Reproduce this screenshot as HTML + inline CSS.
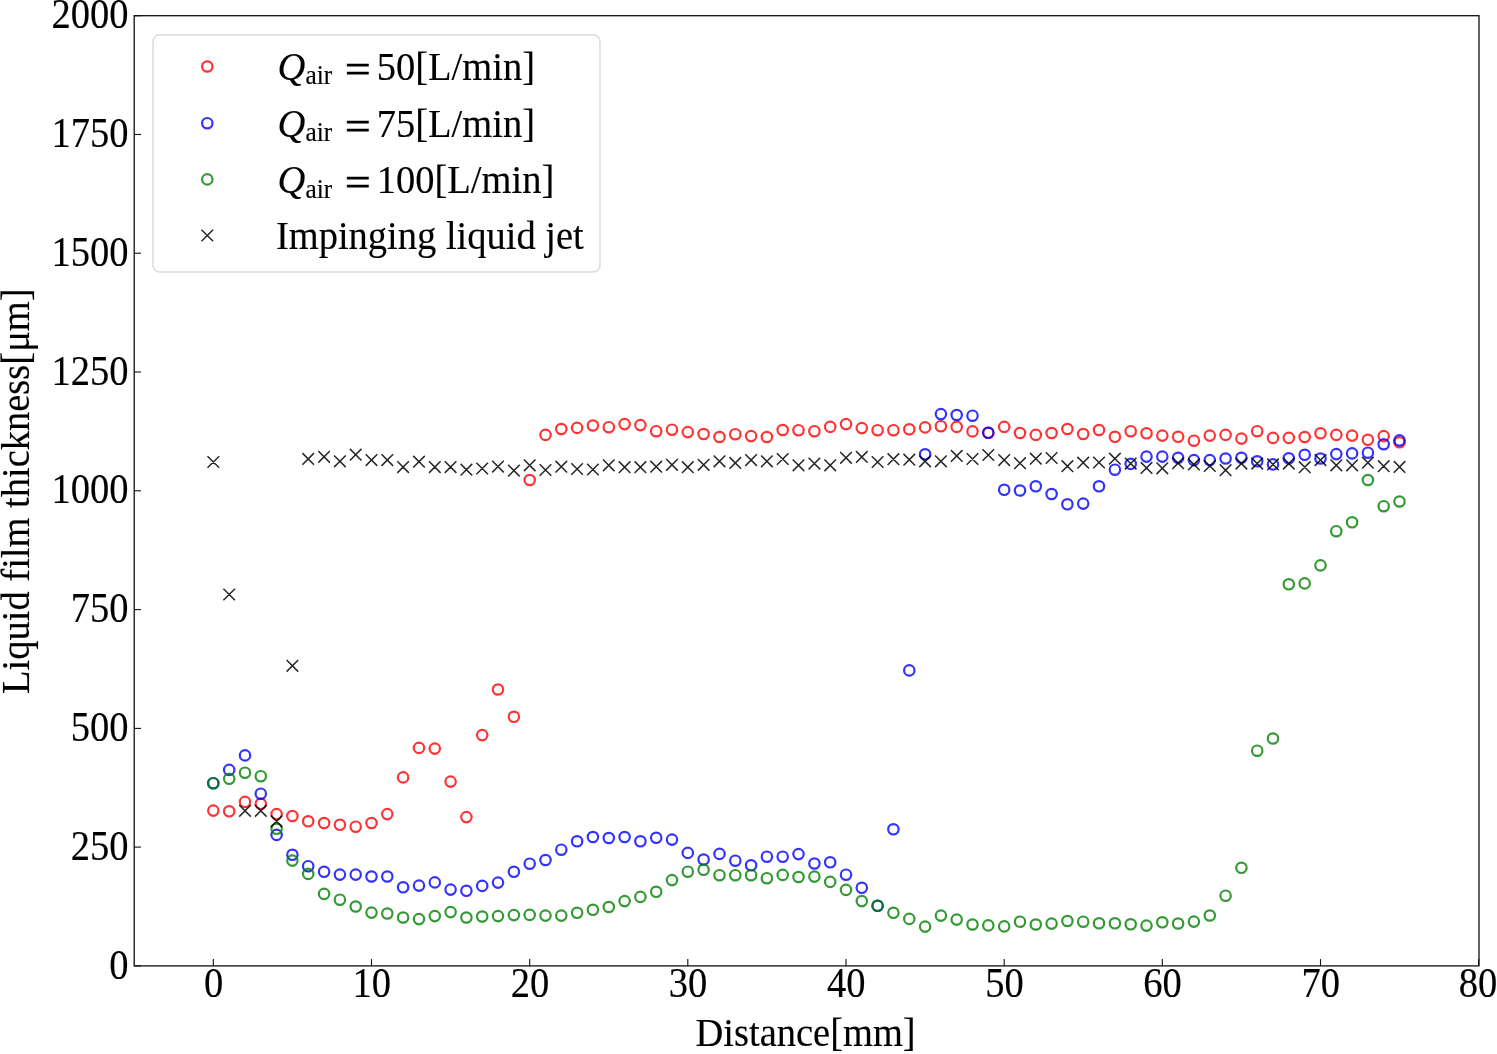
<!DOCTYPE html>
<html lang="en"><head><meta charset="utf-8"><title>Liquid film thickness</title>
<style>
html,body{margin:0;padding:0;background:#fff;}
body{width:1497px;height:1054px;overflow:hidden;}
svg{display:block;}
text{font-family:"Liberation Serif",serif;fill:#000;stroke:#000;stroke-width:0.15px;}
.tk{font-size:38.5px;}
.lb{font-size:38.5px;}
.lg{font-size:38.5px;}
.it{font-style:italic;}
.sub{font-size:26.9px;}
.ax{stroke:#111;stroke-width:1.3;fill:none;}
.tick{stroke:#111;stroke-width:1.1;}
.r{stroke:#f00;} .b{stroke:#00f;} .g{stroke:#008000;}
.m{fill:none;stroke-width:2.2;stroke-opacity:0.8;}
.eq{stroke:#000;stroke-width:0.7px;}
.x{stroke:#000;stroke-opacity:0.85;stroke-width:1.5;fill:none;}
</style></head><body>
<svg width="1497" height="1054" viewBox="0 0 1497 1054">
<rect width="1497" height="1054" fill="#fff"/>

<g class="m r">
<circle cx="213.3" cy="810.6" r="5.2"/>
<circle cx="229.2" cy="811.3" r="5.2"/>
<circle cx="245.0" cy="801.9" r="5.2"/>
<circle cx="260.8" cy="803.8" r="5.2"/>
<circle cx="276.6" cy="814.1" r="5.2"/>
<circle cx="292.4" cy="816.0" r="5.2"/>
<circle cx="308.2" cy="821.3" r="5.2"/>
<circle cx="324.1" cy="823.0" r="5.2"/>
<circle cx="339.9" cy="824.8" r="5.2"/>
<circle cx="355.7" cy="826.7" r="5.2"/>
<circle cx="371.5" cy="823.0" r="5.2"/>
<circle cx="387.3" cy="814.1" r="5.2"/>
<circle cx="403.1" cy="777.4" r="5.2"/>
<circle cx="419.0" cy="747.9" r="5.2"/>
<circle cx="434.8" cy="748.6" r="5.2"/>
<circle cx="450.6" cy="781.6" r="5.2"/>
<circle cx="466.4" cy="817.1" r="5.2"/>
<circle cx="482.2" cy="735.1" r="5.2"/>
<circle cx="498.0" cy="689.5" r="5.2"/>
<circle cx="513.9" cy="716.8" r="5.2"/>
<circle cx="529.7" cy="480.0" r="5.2"/>
<circle cx="545.5" cy="434.9" r="5.2"/>
<circle cx="561.3" cy="429.0" r="5.2"/>
<circle cx="577.1" cy="427.9" r="5.2"/>
<circle cx="592.9" cy="425.5" r="5.2"/>
<circle cx="608.8" cy="427.2" r="5.2"/>
<circle cx="624.6" cy="424.1" r="5.2"/>
<circle cx="640.4" cy="425.1" r="5.2"/>
<circle cx="656.2" cy="431.2" r="5.2"/>
<circle cx="672.0" cy="429.7" r="5.2"/>
<circle cx="687.8" cy="432.1" r="5.2"/>
<circle cx="703.6" cy="434.0" r="5.2"/>
<circle cx="719.5" cy="437.0" r="5.2"/>
<circle cx="735.3" cy="434.2" r="5.2"/>
<circle cx="751.1" cy="436.1" r="5.2"/>
<circle cx="766.9" cy="437.0" r="5.2"/>
<circle cx="782.7" cy="430.0" r="5.2"/>
<circle cx="798.5" cy="430.2" r="5.2"/>
<circle cx="814.4" cy="431.2" r="5.2"/>
<circle cx="830.2" cy="426.9" r="5.2"/>
<circle cx="846.0" cy="424.1" r="5.2"/>
<circle cx="861.8" cy="428.1" r="5.2"/>
<circle cx="877.6" cy="430.2" r="5.2"/>
<circle cx="893.4" cy="430.2" r="5.2"/>
<circle cx="909.3" cy="429.3" r="5.2"/>
<circle cx="925.1" cy="427.4" r="5.2"/>
<circle cx="940.9" cy="426.2" r="5.2"/>
<circle cx="956.7" cy="426.9" r="5.2"/>
<circle cx="972.5" cy="431.4" r="5.2"/>
<circle cx="988.3" cy="432.8" r="5.2"/>
<circle cx="1004.2" cy="426.9" r="5.2"/>
<circle cx="1020.0" cy="433.0" r="5.2"/>
<circle cx="1035.8" cy="434.9" r="5.2"/>
<circle cx="1051.6" cy="433.0" r="5.2"/>
<circle cx="1067.4" cy="429.0" r="5.2"/>
<circle cx="1083.2" cy="434.0" r="5.2"/>
<circle cx="1099.0" cy="430.0" r="5.2"/>
<circle cx="1114.9" cy="436.8" r="5.2"/>
<circle cx="1130.7" cy="431.2" r="5.2"/>
<circle cx="1146.5" cy="433.3" r="5.2"/>
<circle cx="1162.3" cy="435.6" r="5.2"/>
<circle cx="1178.1" cy="436.8" r="5.2"/>
<circle cx="1193.9" cy="440.7" r="5.2"/>
<circle cx="1209.8" cy="435.6" r="5.2"/>
<circle cx="1225.6" cy="434.9" r="5.2"/>
<circle cx="1241.4" cy="438.6" r="5.2"/>
<circle cx="1257.2" cy="431.2" r="5.2"/>
<circle cx="1273.0" cy="437.9" r="5.2"/>
<circle cx="1288.8" cy="437.9" r="5.2"/>
<circle cx="1304.7" cy="437.0" r="5.2"/>
<circle cx="1320.5" cy="433.3" r="5.2"/>
<circle cx="1336.3" cy="434.9" r="5.2"/>
<circle cx="1352.1" cy="435.6" r="5.2"/>
<circle cx="1367.9" cy="439.8" r="5.2"/>
<circle cx="1383.7" cy="436.1" r="5.2"/>
<circle cx="1399.5" cy="442.3" r="5.2"/>
</g>
<g class="m b">
<circle cx="213.3" cy="783.2" r="5.2"/>
<circle cx="229.2" cy="769.9" r="5.2"/>
<circle cx="245.0" cy="755.4" r="5.2"/>
<circle cx="260.8" cy="793.7" r="5.2"/>
<circle cx="276.6" cy="834.9" r="5.2"/>
<circle cx="292.4" cy="854.8" r="5.2"/>
<circle cx="308.2" cy="866.2" r="5.2"/>
<circle cx="324.1" cy="871.8" r="5.2"/>
<circle cx="339.9" cy="874.6" r="5.2"/>
<circle cx="355.7" cy="874.6" r="5.2"/>
<circle cx="371.5" cy="876.5" r="5.2"/>
<circle cx="387.3" cy="876.5" r="5.2"/>
<circle cx="403.1" cy="887.3" r="5.2"/>
<circle cx="419.0" cy="885.6" r="5.2"/>
<circle cx="434.8" cy="882.4" r="5.2"/>
<circle cx="450.6" cy="889.6" r="5.2"/>
<circle cx="466.4" cy="890.8" r="5.2"/>
<circle cx="482.2" cy="885.9" r="5.2"/>
<circle cx="498.0" cy="882.6" r="5.2"/>
<circle cx="513.9" cy="871.8" r="5.2"/>
<circle cx="529.7" cy="863.7" r="5.2"/>
<circle cx="545.5" cy="860.0" r="5.2"/>
<circle cx="561.3" cy="849.7" r="5.2"/>
<circle cx="577.1" cy="841.3" r="5.2"/>
<circle cx="592.9" cy="837.0" r="5.2"/>
<circle cx="608.8" cy="838.0" r="5.2"/>
<circle cx="624.6" cy="837.0" r="5.2"/>
<circle cx="640.4" cy="841.3" r="5.2"/>
<circle cx="656.2" cy="837.8" r="5.2"/>
<circle cx="672.0" cy="839.6" r="5.2"/>
<circle cx="687.8" cy="852.9" r="5.2"/>
<circle cx="703.6" cy="859.5" r="5.2"/>
<circle cx="719.5" cy="853.9" r="5.2"/>
<circle cx="735.3" cy="860.7" r="5.2"/>
<circle cx="751.1" cy="865.3" r="5.2"/>
<circle cx="766.9" cy="856.7" r="5.2"/>
<circle cx="782.7" cy="856.7" r="5.2"/>
<circle cx="798.5" cy="854.1" r="5.2"/>
<circle cx="814.4" cy="863.5" r="5.2"/>
<circle cx="830.2" cy="862.3" r="5.2"/>
<circle cx="846.0" cy="874.7" r="5.2"/>
<circle cx="861.8" cy="887.8" r="5.2"/>
<circle cx="877.6" cy="905.8" r="5.2"/>
<circle cx="893.4" cy="829.3" r="5.2"/>
<circle cx="909.3" cy="670.4" r="5.2"/>
<circle cx="925.1" cy="454.3" r="5.2"/>
<circle cx="940.9" cy="414.1" r="5.2"/>
<circle cx="956.7" cy="415.0" r="5.2"/>
<circle cx="972.5" cy="415.7" r="5.2"/>
<circle cx="988.3" cy="432.8" r="5.2"/>
<circle cx="1004.2" cy="489.8" r="5.2"/>
<circle cx="1020.0" cy="490.5" r="5.2"/>
<circle cx="1035.8" cy="486.3" r="5.2"/>
<circle cx="1051.6" cy="494.0" r="5.2"/>
<circle cx="1067.4" cy="504.3" r="5.2"/>
<circle cx="1083.2" cy="503.6" r="5.2"/>
<circle cx="1099.0" cy="486.3" r="5.2"/>
<circle cx="1114.9" cy="469.7" r="5.2"/>
<circle cx="1130.7" cy="463.9" r="5.2"/>
<circle cx="1146.5" cy="456.6" r="5.2"/>
<circle cx="1162.3" cy="456.6" r="5.2"/>
<circle cx="1178.1" cy="457.8" r="5.2"/>
<circle cx="1193.9" cy="460.1" r="5.2"/>
<circle cx="1209.8" cy="460.1" r="5.2"/>
<circle cx="1225.6" cy="458.5" r="5.2"/>
<circle cx="1241.4" cy="457.8" r="5.2"/>
<circle cx="1257.2" cy="461.3" r="5.2"/>
<circle cx="1273.0" cy="464.4" r="5.2"/>
<circle cx="1288.8" cy="458.3" r="5.2"/>
<circle cx="1304.7" cy="454.8" r="5.2"/>
<circle cx="1320.5" cy="458.5" r="5.2"/>
<circle cx="1336.3" cy="454.1" r="5.2"/>
<circle cx="1352.1" cy="453.4" r="5.2"/>
<circle cx="1367.9" cy="452.7" r="5.2"/>
<circle cx="1383.7" cy="444.2" r="5.2"/>
<circle cx="1399.5" cy="440.4" r="5.2"/>
</g>
<g class="m g">
<circle cx="213.3" cy="783.2" r="5.2"/>
<circle cx="229.2" cy="778.8" r="5.2"/>
<circle cx="245.0" cy="772.7" r="5.2"/>
<circle cx="260.8" cy="776.2" r="5.2"/>
<circle cx="276.6" cy="828.8" r="5.2"/>
<circle cx="292.4" cy="860.6" r="5.2"/>
<circle cx="308.2" cy="873.9" r="5.2"/>
<circle cx="324.1" cy="893.9" r="5.2"/>
<circle cx="339.9" cy="899.7" r="5.2"/>
<circle cx="355.7" cy="906.5" r="5.2"/>
<circle cx="371.5" cy="912.6" r="5.2"/>
<circle cx="387.3" cy="913.5" r="5.2"/>
<circle cx="403.1" cy="917.5" r="5.2"/>
<circle cx="419.0" cy="919.1" r="5.2"/>
<circle cx="434.8" cy="916.1" r="5.2"/>
<circle cx="450.6" cy="912.1" r="5.2"/>
<circle cx="466.4" cy="917.5" r="5.2"/>
<circle cx="482.2" cy="916.5" r="5.2"/>
<circle cx="498.0" cy="916.1" r="5.2"/>
<circle cx="513.9" cy="915.1" r="5.2"/>
<circle cx="529.7" cy="914.9" r="5.2"/>
<circle cx="545.5" cy="915.6" r="5.2"/>
<circle cx="561.3" cy="915.6" r="5.2"/>
<circle cx="577.1" cy="912.8" r="5.2"/>
<circle cx="592.9" cy="909.8" r="5.2"/>
<circle cx="608.8" cy="907.0" r="5.2"/>
<circle cx="624.6" cy="901.1" r="5.2"/>
<circle cx="640.4" cy="896.9" r="5.2"/>
<circle cx="656.2" cy="891.8" r="5.2"/>
<circle cx="672.0" cy="880.1" r="5.2"/>
<circle cx="687.8" cy="871.7" r="5.2"/>
<circle cx="703.6" cy="869.8" r="5.2"/>
<circle cx="719.5" cy="875.2" r="5.2"/>
<circle cx="735.3" cy="875.2" r="5.2"/>
<circle cx="751.1" cy="875.2" r="5.2"/>
<circle cx="766.9" cy="878.2" r="5.2"/>
<circle cx="782.7" cy="874.9" r="5.2"/>
<circle cx="798.5" cy="877.0" r="5.2"/>
<circle cx="814.4" cy="876.6" r="5.2"/>
<circle cx="830.2" cy="881.9" r="5.2"/>
<circle cx="846.0" cy="889.9" r="5.2"/>
<circle cx="861.8" cy="901.1" r="5.2"/>
<circle cx="877.6" cy="905.8" r="5.2"/>
<circle cx="893.4" cy="912.8" r="5.2"/>
<circle cx="909.3" cy="918.9" r="5.2"/>
<circle cx="925.1" cy="926.6" r="5.2"/>
<circle cx="940.9" cy="915.6" r="5.2"/>
<circle cx="956.7" cy="919.6" r="5.2"/>
<circle cx="972.5" cy="924.5" r="5.2"/>
<circle cx="988.3" cy="925.4" r="5.2"/>
<circle cx="1004.2" cy="926.4" r="5.2"/>
<circle cx="1020.0" cy="921.7" r="5.2"/>
<circle cx="1035.8" cy="924.5" r="5.2"/>
<circle cx="1051.6" cy="923.6" r="5.2"/>
<circle cx="1067.4" cy="921.0" r="5.2"/>
<circle cx="1083.2" cy="921.7" r="5.2"/>
<circle cx="1099.0" cy="923.3" r="5.2"/>
<circle cx="1114.9" cy="923.3" r="5.2"/>
<circle cx="1130.7" cy="924.3" r="5.2"/>
<circle cx="1146.5" cy="925.6" r="5.2"/>
<circle cx="1162.3" cy="922.3" r="5.2"/>
<circle cx="1178.1" cy="923.5" r="5.2"/>
<circle cx="1193.9" cy="921.6" r="5.2"/>
<circle cx="1209.8" cy="915.5" r="5.2"/>
<circle cx="1225.6" cy="895.7" r="5.2"/>
<circle cx="1241.4" cy="867.8" r="5.2"/>
<circle cx="1257.2" cy="750.7" r="5.2"/>
<circle cx="1273.0" cy="738.5" r="5.2"/>
<circle cx="1288.8" cy="584.3" r="5.2"/>
<circle cx="1304.7" cy="583.4" r="5.2"/>
<circle cx="1320.5" cy="565.4" r="5.2"/>
<circle cx="1336.3" cy="531.2" r="5.2"/>
<circle cx="1352.1" cy="522.3" r="5.2"/>
<circle cx="1367.9" cy="480.0" r="5.2"/>
<circle cx="1383.7" cy="506.2" r="5.2"/>
<circle cx="1399.5" cy="501.5" r="5.2"/>
</g>
<path class="x" d="M207.5 456.2L219.2 467.8M207.5 467.8L219.2 456.2M223.4 588.7L235.0 600.3M223.4 600.3L235.0 588.7M239.2 805.0L250.8 816.6M239.2 816.6L250.8 805.0M255.0 805.0L266.6 816.6M255.0 816.6L266.6 805.0M270.8 815.5L282.4 827.1M270.8 827.1L282.4 815.5M286.6 660.0L298.2 671.6M286.6 671.6L298.2 660.0M302.4 453.1L314.0 464.7M302.4 464.7L314.0 453.1M318.3 451.0L329.9 462.6M318.3 462.6L329.9 451.0M334.1 455.5L345.7 467.1M334.1 467.1L345.7 455.5M349.9 448.9L361.5 460.5M349.9 460.5L361.5 448.9M365.7 454.3L377.3 465.9M365.7 465.9L377.3 454.3M381.5 454.3L393.1 465.9M381.5 465.9L393.1 454.3M397.3 461.3L408.9 472.9M397.3 472.9L408.9 461.3M413.2 455.9L424.8 467.5M413.2 467.5L424.8 455.9M429.0 461.3L440.6 472.9M429.0 472.9L440.6 461.3M444.8 461.3L456.4 472.9M444.8 472.9L456.4 461.3M460.6 463.9L472.2 475.5M460.6 475.5L472.2 463.9M476.4 462.7L488.0 474.3M476.4 474.3L488.0 462.7M492.2 460.8L503.8 472.4M492.2 472.4L503.8 460.8M508.1 464.8L519.7 476.4M508.1 476.4L519.7 464.8M523.9 459.5L535.5 471.1M523.9 471.1L535.5 459.5M539.7 464.2L551.3 475.8M539.7 475.8L551.3 464.2M555.5 460.9L567.1 472.5M555.5 472.5L567.1 460.9M571.3 463.2L582.9 474.8M571.3 474.8L582.9 463.2M587.1 463.7L598.7 475.3M587.1 475.3L598.7 463.7M603.0 459.5L614.5 471.1M603.0 471.1L614.5 459.5M618.8 461.4L630.4 473.0M618.8 473.0L630.4 461.4M634.6 461.4L646.2 473.0M634.6 473.0L646.2 461.4M650.4 460.9L662.0 472.5M650.4 472.5L662.0 460.9M666.2 459.0L677.8 470.6M666.2 470.6L677.8 459.0M682.0 461.4L693.6 473.0M682.0 473.0L693.6 461.4M697.8 459.0L709.4 470.6M697.8 470.6L709.4 459.0M713.7 455.5L725.3 467.1M713.7 467.1L725.3 455.5M729.5 457.1L741.1 468.7M729.5 468.7L741.1 457.1M745.3 454.3L756.9 465.9M745.3 465.9L756.9 454.3M761.1 455.5L772.7 467.1M761.1 467.1L772.7 455.5M776.9 453.2L788.5 464.8M776.9 464.8L788.5 453.2M792.7 459.5L804.3 471.1M792.7 471.1L804.3 459.5M808.6 457.8L820.2 469.4M808.6 469.4L820.2 457.8M824.4 459.5L836.0 471.1M824.4 471.1L836.0 459.5M840.2 452.0L851.8 463.6M840.2 463.6L851.8 452.0M856.0 451.1L867.6 462.7M856.0 462.7L867.6 451.1M871.8 456.2L883.4 467.8M871.8 467.8L883.4 456.2M887.6 453.4L899.2 465.0M887.6 465.0L899.2 453.4M903.5 453.9L915.1 465.5M903.5 465.5L915.1 453.9M919.3 455.5L930.9 467.1M919.3 467.1L930.9 455.5M935.1 455.5L946.7 467.1M935.1 467.1L946.7 455.5M950.9 450.1L962.5 461.7M950.9 461.7L962.5 450.1M966.7 453.2L978.3 464.8M966.7 464.8L978.3 453.2M982.5 449.2L994.1 460.8M982.5 460.8L994.1 449.2M998.4 454.3L1010.0 465.9M998.4 465.9L1010.0 454.3M1014.2 457.4L1025.8 469.0M1014.2 469.0L1025.8 457.4M1030.0 452.9L1041.6 464.5M1030.0 464.5L1041.6 452.9M1045.8 452.2L1057.4 463.8M1045.8 463.8L1057.4 452.2M1061.6 460.4L1073.2 472.0M1061.6 472.0L1073.2 460.4M1077.4 456.9L1089.0 468.5M1077.4 468.5L1089.0 456.9M1093.2 456.7L1104.8 468.3M1093.2 468.3L1104.8 456.7M1109.1 452.9L1120.7 464.5M1109.1 464.5L1120.7 452.9M1124.9 457.8L1136.5 469.4M1124.9 469.4L1136.5 457.8M1140.7 462.1L1152.3 473.7M1140.7 473.7L1152.3 462.1M1156.5 462.5L1168.1 474.1M1156.5 474.1L1168.1 462.5M1172.3 457.4L1183.9 469.0M1172.3 469.0L1183.9 457.4M1188.1 458.6L1199.7 470.2M1188.1 470.2L1199.7 458.6M1204.0 460.2L1215.6 471.8M1204.0 471.8L1215.6 460.2M1219.8 464.4L1231.4 476.0M1219.8 476.0L1231.4 464.4M1235.6 457.8L1247.2 469.4M1235.6 469.4L1247.2 457.8M1251.4 457.8L1263.0 469.4M1251.4 469.4L1263.0 457.8M1267.2 458.6L1278.8 470.2M1267.2 470.2L1278.8 458.6M1283.0 457.8L1294.6 469.4M1283.0 469.4L1294.6 457.8M1298.9 461.4L1310.5 473.0M1298.9 473.0L1310.5 461.4M1314.7 454.3L1326.3 465.9M1314.7 465.9L1326.3 454.3M1330.5 459.5L1342.1 471.1M1330.5 471.1L1342.1 459.5M1346.3 459.5L1357.9 471.1M1346.3 471.1L1357.9 459.5M1362.1 456.9L1373.7 468.5M1362.1 468.5L1373.7 456.9M1377.9 460.4L1389.5 472.0M1377.9 472.0L1389.5 460.4M1393.8 461.1L1405.3 472.7M1393.8 472.7L1405.3 461.1"/>
<rect class="ax" x="134.2" y="15.7" width="1344.8" height="950.2"/>
<line class="tick" x1="213.3" y1="965.9" x2="213.3" y2="959.1"/>
<text class="tk" transform="translate(213.7 997) scale(1 1.07)" text-anchor="middle">0</text>
<line class="tick" x1="371.5" y1="965.9" x2="371.5" y2="959.1"/>
<text class="tk" transform="translate(371.8 997) scale(1 1.07)" text-anchor="middle">10</text>
<line class="tick" x1="529.7" y1="965.9" x2="529.7" y2="959.1"/>
<text class="tk" transform="translate(530.0 997) scale(1 1.07)" text-anchor="middle">20</text>
<line class="tick" x1="687.8" y1="965.9" x2="687.8" y2="959.1"/>
<text class="tk" transform="translate(688.1 997) scale(1 1.07)" text-anchor="middle">30</text>
<line class="tick" x1="846.0" y1="965.9" x2="846.0" y2="959.1"/>
<text class="tk" transform="translate(846.3 997) scale(1 1.07)" text-anchor="middle">40</text>
<line class="tick" x1="1004.2" y1="965.9" x2="1004.2" y2="959.1"/>
<text class="tk" transform="translate(1004.5 997) scale(1 1.07)" text-anchor="middle">50</text>
<line class="tick" x1="1162.3" y1="965.9" x2="1162.3" y2="959.1"/>
<text class="tk" transform="translate(1162.6 997) scale(1 1.07)" text-anchor="middle">60</text>
<line class="tick" x1="1320.5" y1="965.9" x2="1320.5" y2="959.1"/>
<text class="tk" transform="translate(1320.8 997) scale(1 1.07)" text-anchor="middle">70</text>
<line class="tick" x1="1478.6" y1="965.9" x2="1478.6" y2="959.1"/>
<text class="tk" transform="translate(1478.1 997) scale(1 1.07)" text-anchor="middle">80</text>
<line class="tick" x1="134.2" y1="965.9" x2="141.0" y2="965.9"/>
<text class="tk" transform="translate(128.6 978.5) scale(1 1.07)" text-anchor="end">0</text>
<line class="tick" x1="134.2" y1="847.1" x2="141.0" y2="847.1"/>
<text class="tk" transform="translate(128.6 859.7) scale(1 1.07)" text-anchor="end">250</text>
<line class="tick" x1="134.2" y1="728.4" x2="141.0" y2="728.4"/>
<text class="tk" transform="translate(128.6 741.0) scale(1 1.07)" text-anchor="end">500</text>
<line class="tick" x1="134.2" y1="609.6" x2="141.0" y2="609.6"/>
<text class="tk" transform="translate(128.6 622.2) scale(1 1.07)" text-anchor="end">750</text>
<line class="tick" x1="134.2" y1="490.8" x2="141.0" y2="490.8"/>
<text class="tk" transform="translate(128.6 503.4) scale(1 1.07)" text-anchor="end">1000</text>
<line class="tick" x1="134.2" y1="372.0" x2="141.0" y2="372.0"/>
<text class="tk" transform="translate(128.6 384.6) scale(1 1.07)" text-anchor="end">1250</text>
<line class="tick" x1="134.2" y1="253.2" x2="141.0" y2="253.2"/>
<text class="tk" transform="translate(128.6 265.9) scale(1 1.07)" text-anchor="end">1500</text>
<line class="tick" x1="134.2" y1="134.5" x2="141.0" y2="134.5"/>
<text class="tk" transform="translate(128.6 147.1) scale(1 1.07)" text-anchor="end">1750</text>
<line class="tick" x1="134.2" y1="15.7" x2="141.0" y2="15.7"/>
<text class="tk" transform="translate(128.6 28.3) scale(1 1.07)" text-anchor="end">2000</text>
<text class="lb" transform="translate(805.6 1046.0) scale(1 1.04)" text-anchor="middle">Distance[mm]</text>
<text class="lb" transform="translate(29.0 491.2) rotate(-90) scale(1 1.04)" text-anchor="middle">Liquid film thickness[μm]</text>
<rect x="153" y="34.7" width="447" height="237.3" rx="6.7" ry="6.7" fill="#fff" fill-opacity="0.8" stroke="#dcdcdc" stroke-width="1.5"/>
<circle class="m r" cx="207.3" cy="66.5" r="5.2"/>
<text class="lg it" transform="translate(277.5 80.0) scale(1 1.04)">Q</text>
<text class="sub" transform="translate(305.6 84.4) scale(1 1.04)" textLength="26.7" lengthAdjust="spacingAndGlyphs">air</text>
<text class="lg eq" transform="translate(345.0 82.6) scale(1 1.04)" textLength="25.5" lengthAdjust="spacingAndGlyphs">=</text>
<text class="lg" transform="translate(376.8 80.0) scale(1 1.04)">50[L/min]</text>
<circle class="m b" cx="207.3" cy="123.2" r="5.2"/>
<text class="lg it" transform="translate(277.5 137.0) scale(1 1.04)">Q</text>
<text class="sub" transform="translate(305.6 141.4) scale(1 1.04)" textLength="26.7" lengthAdjust="spacingAndGlyphs">air</text>
<text class="lg eq" transform="translate(345.0 139.6) scale(1 1.04)" textLength="25.5" lengthAdjust="spacingAndGlyphs">=</text>
<text class="lg" transform="translate(376.8 137.0) scale(1 1.04)">75[L/min]</text>
<circle class="m g" cx="207.3" cy="179.4" r="5.2"/>
<text class="lg it" transform="translate(277.5 193.1) scale(1 1.04)">Q</text>
<text class="sub" transform="translate(305.6 197.5) scale(1 1.04)" textLength="26.7" lengthAdjust="spacingAndGlyphs">air</text>
<text class="lg eq" transform="translate(345.0 195.7) scale(1 1.04)" textLength="25.5" lengthAdjust="spacingAndGlyphs">=</text>
<text class="lg" transform="translate(376.8 193.1) scale(1 1.04)">100[L/min]</text>
<path class="x" d="M201.5 229.7L213.1 241.3M201.5 241.3L213.1 229.7"/>
<text class="lg" transform="translate(275.9 249.3) scale(1 1.04)">Impinging liquid jet</text>
</svg></body></html>
